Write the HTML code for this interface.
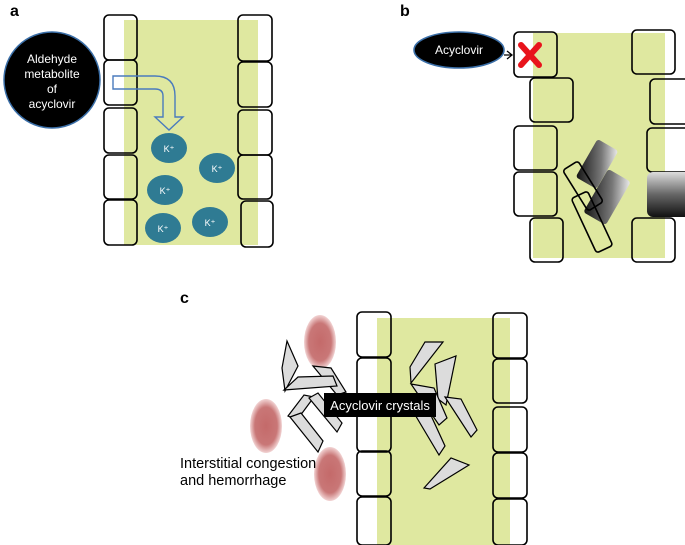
<!DOCTYPE html>
<html><head><meta charset="utf-8"><style>
html,body{margin:0;padding:0;background:#fff}
svg{display:block}
text{font-family:"Liberation Sans",Arial,sans-serif}
</style></head><body>
<svg width="685" height="545" viewBox="0 0 685 545" xmlns="http://www.w3.org/2000/svg">
<defs>
<radialGradient id="rb" cx="50%" cy="50%" r="50%"><stop offset="0" stop-color="#c46a6a"/><stop offset="0.7" stop-color="#c97777"/><stop offset="1" stop-color="#f2d4d4"/></radialGradient>
<linearGradient id="dg" x1="0" y1="0" x2="0" y2="1"><stop offset="0" stop-color="#ddd"/><stop offset="0.5" stop-color="#666"/><stop offset="1" stop-color="#111"/></linearGradient>
<linearGradient id="dg2" x1="1" y1="0" x2="0" y2="1"><stop offset="0" stop-color="#eee"/><stop offset="0.4" stop-color="#777"/><stop offset="1" stop-color="#111"/></linearGradient>
</defs>
<g stroke="#000" stroke-width="1.6" fill="#fff">
<!-- panel a -->
<text x="10" y="16" font-size="16" font-weight="bold" stroke="none" fill="#000">a</text>
<rect x="124" y="20" width="134" height="225" fill="#dfe8a0" stroke="none"/>
<rect x="104" y="15" width="33" height="45" rx="5" fill="none"/>
<rect x="104" y="60" width="33" height="45" rx="5" fill="none"/>
<rect x="104" y="108" width="33" height="45" rx="5" fill="none"/>
<rect x="104" y="155" width="33" height="44" rx="5" fill="none"/>
<rect x="104" y="200" width="33" height="45" rx="5" fill="none"/>
<rect x="238" y="15" width="34" height="46" rx="5" fill="none"/>
<rect x="238" y="62" width="34" height="45" rx="5" fill="none"/>
<rect x="238" y="110" width="34" height="45" rx="5" fill="none"/>
<rect x="238" y="155" width="34" height="44" rx="5" fill="none"/>
<rect x="241" y="201" width="32" height="46" rx="5" fill="none"/>
<circle cx="52" cy="80" r="48" fill="#000" stroke="#3b6fa8" stroke-width="1.5"/>
<g stroke="none" fill="#fff" font-size="12" text-anchor="middle">
<text x="52" y="63">Aldehyde</text><text x="52" y="78">metabolite</text><text x="52" y="93">of</text><text x="52" y="108">acyclovir</text></g>
<path d="M113,76 H155 Q175,76 175,96 V117 H183 L169,130 L155,117 H163 V96 Q163,89 155,89 H113 Z" fill="none" stroke="#4a7bbd" stroke-width="1.4"/>
<g fill="#2f7b93" stroke="none">
<ellipse cx="169" cy="148" rx="18" ry="15"/><ellipse cx="217" cy="168" rx="18" ry="15"/>
<ellipse cx="165" cy="190" rx="18" ry="15"/><ellipse cx="163" cy="228" rx="18" ry="15"/><ellipse cx="210" cy="222" rx="18" ry="15"/></g>
<g fill="#fff" stroke="none" font-size="9" text-anchor="middle">
<text x="169" y="152">K⁺</text><text x="217" y="172">K⁺</text><text x="165" y="194">K⁺</text><text x="163" y="232">K⁺</text><text x="210" y="226">K⁺</text></g>
<!-- panel b -->
<text x="400" y="16" font-size="16" font-weight="bold" stroke="none" fill="#000">b</text>
<rect x="533" y="33" width="132" height="225" fill="#dfe8a0" stroke="none"/>
<rect x="514" y="32" width="43" height="45" rx="5" fill="none"/>
<rect x="530" y="78" width="43" height="44" rx="5" fill="none"/>
<rect x="514" y="126" width="43" height="44" rx="5" fill="none"/>
<rect x="514" y="172" width="43" height="44" rx="5" fill="none"/>
<rect x="530" y="218" width="33" height="44" rx="5" fill="none"/>
<rect x="632" y="30" width="43" height="44" rx="5" fill="none"/>
<rect x="650" y="79" width="44" height="45" rx="5" fill="none"/>
<rect x="647" y="128" width="44" height="44" rx="5" fill="none"/>
<rect x="647" y="172" width="44" height="45" rx="6" fill="url(#dg)" stroke="none"/>
<rect x="632" y="218" width="43" height="44" rx="5" fill="none"/>
<path d="M521,45 L539,65 M539,45 L521,65" stroke="#e8141c" stroke-width="6" stroke-linecap="round"/>
<ellipse cx="459" cy="50" rx="45" ry="18" fill="#000" stroke="#3b6fa8"/>
<text x="459" y="54" font-size="12" fill="#fff" stroke="none" text-anchor="middle">Acyclovir</text>
<path d="M504,55 H512 M507,51 L512,55 L507,59" fill="none" stroke-width="1.3"/>
<rect x="-12" y="-22" width="24" height="44" rx="3" transform="translate(597,164) rotate(30)" fill="url(#dg2)" stroke="none"/>
<rect x="-13" y="-25" width="26" height="50" rx="3" transform="translate(607,197) rotate(30)" fill="url(#dg2)" stroke="none"/>
<rect x="-9" y="-24" width="18" height="48" rx="3" transform="translate(583,186) rotate(-32)" fill="none"/>
<rect x="-9" y="-30" width="18" height="60" rx="3" transform="translate(592,222) rotate(-25)" fill="none"/>
<!-- panel c -->
<text x="180" y="303" font-size="16" font-weight="bold" stroke="none" fill="#000">c</text>
<rect x="377" y="318" width="133" height="227" fill="#dfe8a0" stroke="none"/>
<rect x="357" y="312" width="34" height="45" rx="5" fill="none"/>
<rect x="357" y="358" width="34" height="47" rx="5" fill="none"/>
<rect x="357" y="407" width="34" height="45" rx="5" fill="none"/>
<rect x="357" y="451" width="34" height="45" rx="5" fill="none"/>
<rect x="357" y="497" width="34" height="48" rx="5" fill="none"/>
<rect x="493" y="313" width="34" height="45" rx="5" fill="none"/>
<rect x="493" y="359" width="34" height="44" rx="5" fill="none"/>
<rect x="493" y="407" width="34" height="45" rx="5" fill="none"/>
<rect x="493" y="453" width="34" height="45" rx="5" fill="none"/>
<rect x="493" y="499" width="34" height="46" rx="5" fill="none"/>
<g stroke="none" fill="url(#rb)">
<ellipse cx="320" cy="342" rx="16" ry="27"/><ellipse cx="266" cy="426" rx="16" ry="27"/><ellipse cx="330" cy="474" rx="16" ry="27"/></g>
<g fill="#dcdcdc" stroke-width="1.2">
<polygon points="287,341 298,366 285,391 282,368"/>
<polygon points="313,366 331,368 346,392 337,395"/>
<polygon points="284,390 298,377 333,376 337,386"/>
<polygon points="288,416 304,395 314,397 297,420"/>
<polygon points="309,398 318,393 342,423 337,432"/>
<polygon points="290,417 301,413 323,441 318,452"/>
<polygon points="410,367 425,342 443,342 411,383"/>
<polygon points="435,364 456,356 446,405 438,399"/>
<polygon points="411,384 434,388 447,418 439,425"/>
<polygon points="414,413 428,409 445,446 439,455"/>
<polygon points="445,397 461,399 477,430 471,437"/>
<polygon points="424,488 451,458 469,465 430,489"/>
</g>
<rect x="324" y="393" width="112" height="24" fill="#000" stroke="none"/>
<text x="380" y="410" font-size="13" fill="#fff" stroke="none" text-anchor="middle">Acyclovir crystals</text>
<g stroke="none" fill="#000" font-size="14.5"><text x="180" y="468">Interstitial congestion</text><text x="180" y="485">and hemorrhage</text></g>
</g>
</svg>
</body></html>
